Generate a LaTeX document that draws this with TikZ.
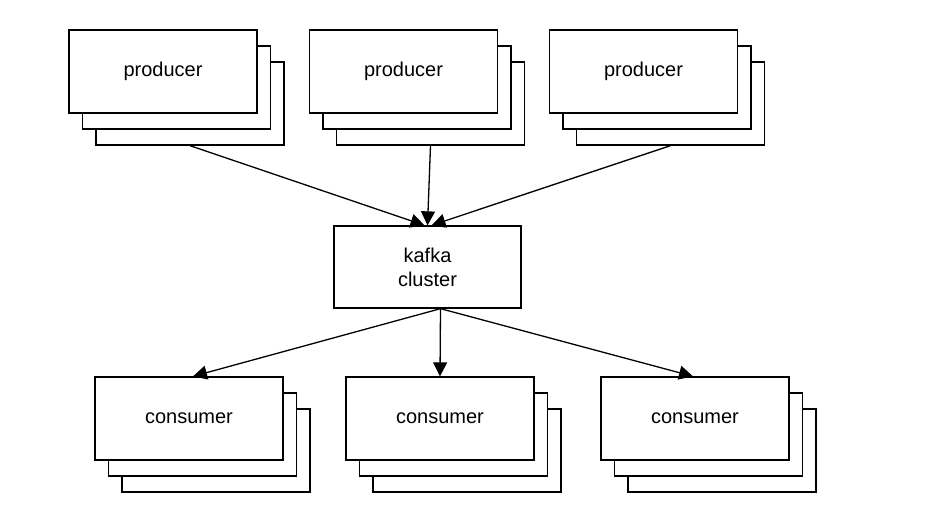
\documentclass[tikz,border=0pt]{standalone}
\usepackage{fontspec}
\setmainfont{Liberation Sans}
\usetikzlibrary{arrows.meta,calc}
\begin{document}
\begin{tikzpicture}[x=1pt,y=-1pt,
  box/.style={draw,fill=white,line width=1.3pt,minimum width=188pt,minimum height=83pt,inner sep=0pt,font=\fontsize{20}{24}\selectfont,align=center},
  arr/.style={-{Triangle[length=14pt,width=14pt]},line width=1.3pt}]
\useasboundingbox (0,0) rectangle (926,528);
\newcommand{\stack}[4]{%
  \node[box] (#1c) at (#2+27,#3+32) {};
  \node[box] (#1b) at (#2+13.5,#3+16) {};
  \node[box] (#1) at (#2,#3) {#4};}
\stack{p1}{163}{71.5}{producer}
\stack{p2}{403.5}{71.5}{producer}
\stack{p3}{643.5}{71.5}{producer}
\node[box,minimum width=187pt,minimum height=82pt] (k) at (427.5,267) {kafka\\cluster};
\stack{c1}{189}{418.5}{consumer}
\stack{c2}{440}{418.5}{consumer}
\stack{c3}{695}{418.5}{consumer}
\draw[arr] (p1c.south) -- ($(k.north)+(-3,0)$);
\draw[arr] (p2c.south) -- ($(k.north)+(0,0)$);
\draw[arr] (p3c.south) -- ($(k.north)+(4,0)$);
\draw[arr] ($(k.south)+(13,0)$) -- ($(c1.north)+(4,0)$);
\draw[arr] ($(k.south)+(13,0)$) -- (c2.north);
\draw[arr] ($(k.south)+(13,0)$) -- ($(c3.north)+(-2,0)$);
\end{tikzpicture}
\end{document}
